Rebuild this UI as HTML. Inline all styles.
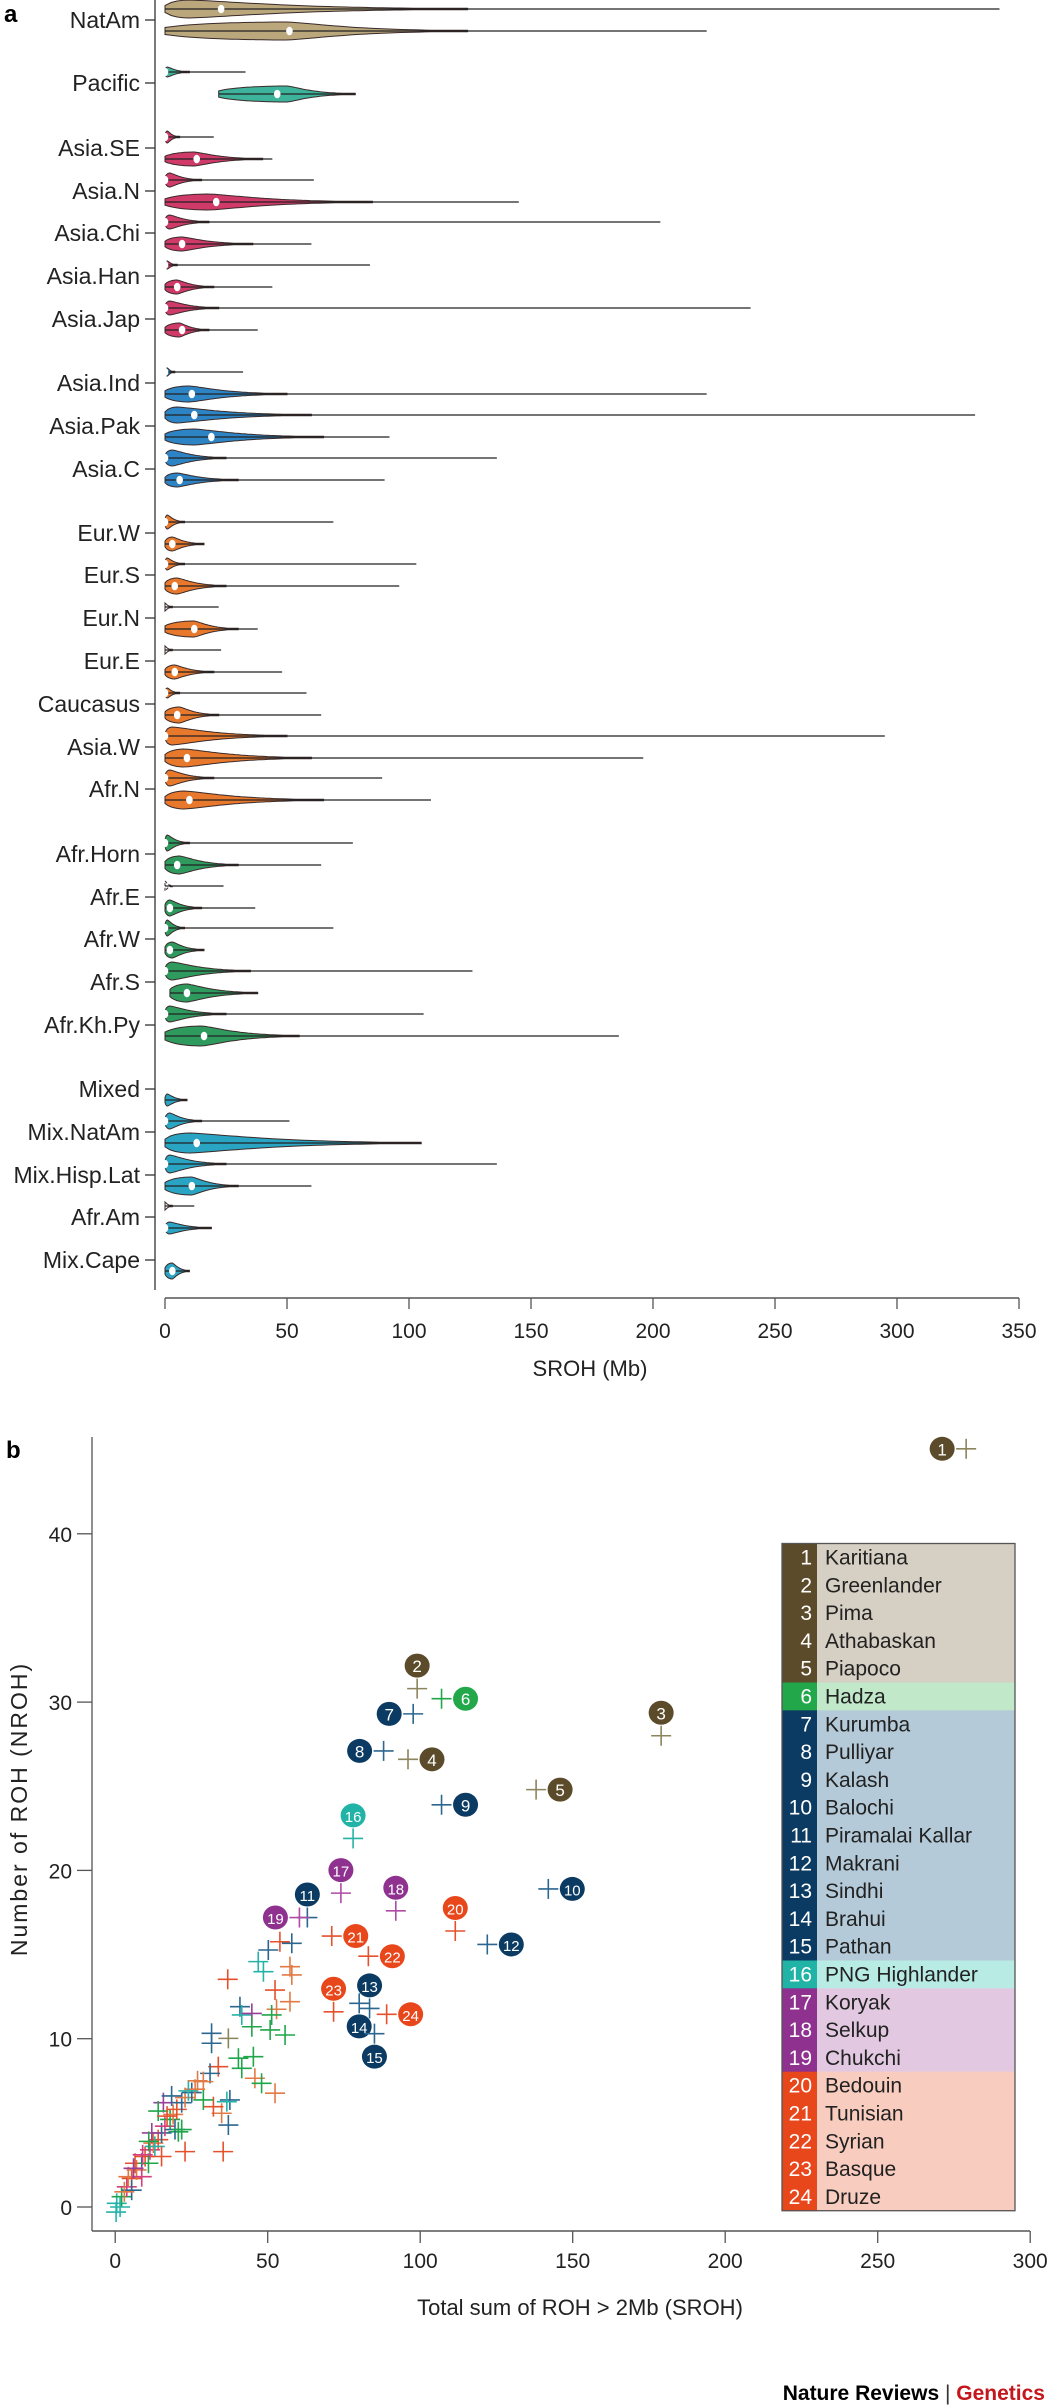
<!DOCTYPE html>
<html><head><meta charset="utf-8"><style>
html,body{margin:0;padding:0;background:#fff;}
svg{display:block;font-family:"Liberation Sans",sans-serif;}
</style></head><body>
<svg id="fig" width="1050" height="2407" viewBox="0 0 1050 2407" xmlns="http://www.w3.org/2000/svg">
<text x="4" y="22" font-size="24" font-weight="bold">a</text>
<text x="6" y="1458" font-size="24" font-weight="bold">b</text>
<g id="pa"></g>
<g id="pb"></g>
<text x="1045" y="2400" text-anchor="end" font-size="21" font-weight="bold">Nature Reviews <tspan fill="#333" font-weight="normal">|</tspan> <tspan fill="#c4161c">Genetics</tspan></text>
</svg>
<script>
// ---------- Panel a data ----------
const groupLabels = ["NatAm","Pacific","Asia.SE","Asia.N","Asia.Chi","Asia.Han","Asia.Jap","Asia.Ind","Asia.Pak","Asia.C","Eur.W","Eur.S","Eur.N","Eur.E","Caucasus","Asia.W","Afr.N","Afr.Horn","Afr.E","Afr.W","Afr.S","Afr.Kh.Py","Mixed","Mix.NatAm","Mix.Hisp.Lat","Afr.Am","Mix.Cape"];
const groupRegion = [0,1,2,2,2,2,2,3,3,3,4,4,4,4,4,4,4,5,5,5,5,5,6,6,6,6,6];
// per violin: group index, side (-1 top, +1 bottom)
const vGroup = [0,0,1,1,2,2,3,3,4,4,5,5,6,6,7,7,8,8,9,9,10,10,11,11,12,12,13,13,14,14,15,15,16,16,17,17,18,18,19,19,20,20,21,21,22,23,23,24,24,25,25,26];
const vSide  = [-1,1,-1,1,-1,1,-1,1,-1,1,-1,1,-1,1,-1,1,-1,1,-1,1,-1,1,-1,1,-1,1,-1,1,-1,1,-1,1,-1,1,-1,1,-1,1,-1,1,-1,1,-1,1,1,-1,1,-1,1,-1,1,1];
const vMin   = [0,0,0,22,0,0,0,0,0,0,0,0,0,0,0,0,0,0,0,0,0,0,0,0,0,0,0,0,0,0,0,0,0,0,0,0,0,0,0,0,0,2,0,0,0,0,0,0,0,0,0,0];
const vMax   = [342,222,33,78,20,44,61,145,203,60,84,44,240,38,32,222,332,92,136,90,69,16,103,96,22,38,23,48,58,64,295,196,89,109,77,64,24,37,69,16,126,38,106,186,9,51,105,136,60,12,19,10];
const vMed   = [23,51,0,46,0,13,0,21,0,7,0,5,0,7,0,11,12,19,0,6,0,3,0,4,null,12,null,4,0,5,0,9,0,10,0,5,null,2,0,2,0,9,0,16,null,0,13,0,11,null,0,3];
const vPeak  = [10,50,1,50,1,12,2,18,2,7,1,5,2,6,1,10,5,12,3,5,1,3,1,5,0,12,0,4,1,6,3,8,2,8,1,6,0,2,1,3,3,9,2,15,1,2,10,2,11,0,2,3];
const vBody  = [124,124,10,78,6,40,15,85,18,36,5,20,22,18,4,50,60,65,25,30,8,16,8,25,3,30,3,20,6,22,50,60,20,65,10,30,3,15,8,16,35,38,25,55,9,15,105,25,30,3,19,10];
const vHW    = [9,9,5,8,6,7,7,8,7,7,4,7,7,7,4,8,8,8,8,7,7,7,6,8,4,8,4,7,5,8,9,9,8,9,8,9,5,8,8,8,9,9,8,10,6,8,10,9,9,4,6,8];
const vHollow= [0,0,0,0,0,0,0,0,0,0,0,0,0,0,0,0,0,0,0,0,0,0,0,0,1,0,1,0,0,0,0,0,0,0,0,0,1,0,0,0,0,0,0,0,0,0,0,0,0,1,0,0];
const aTicks = [0,50,100,150,200,250,300,350];
const groupY = [20,83,148,191,233,276,319,383,426,469,533,575,618,661,704,747,789,854,897,939,982,1025,1089,1132,1175,1217,1260];
const regionFill = ["#bba77c","#3db39c","#cf3a68","#2c84c4","#e8792c","#2e9a5e","#2aa4c3"];

// ---------- Panel b data ----------
const labNames = ["Karitiana","Greenlander","Pima","Athabaskan","Piapoco","Hadza","Kurumba","Pulliyar","Kalash","Balochi","Piramalai Kallar","Makrani","Sindhi","Brahui","Pathan","PNG Highlander","Koryak","Selkup","Chukchi","Bedouin","Tunisian","Syrian","Basque","Druze"];
const labGroup = [0,0,0,0,0,1,2,2,2,2,2,2,2,2,2,3,4,4,4,5,5,5,5,5];
const labX = [279,99,179,96,138,107,97.7,88,107,142,63,122,83.4,80,85,78,74,92,60.4,111.5,71,83,71.6,89];
const labY = [45.05,30.8,28,26.6,24.8,30.2,29.3,27.1,23.9,18.9,17.2,15.6,11.8,12.1,10.3,21.9,18.65,17.6,17.2,16.4,16.1,14.9,11.6,11.45];
// label-circle offset direction: 0 left,1 right,2 above,3 below
const labPos = [0,2,2,1,1,1,0,0,1,1,2,1,2,3,3,2,2,2,0,2,1,1,2,1];
const crossX = [57.9,54,50.2,46.9,48.6,57.3,57.9,36.9,52.4,57.3,52.9,40.9,41.5,44.8,51.3,44.8,50.8,55.7,31.6,31.6,37.1,40.4,45.3,41.5,45.8,48,52.4,33.8,31.1,28.9,37.6,36.6,34.9,37.1,32.2,28.9,22.9,35.4,20.7,0.5,2.1,3.8,5.4,7,8.7,9.8,11.4,12.5,14.1,15.2,16.3,18,19,20.2,21.8,22.9,25.1,26.2,15.8,14.1,18.5,6.5,4.3,10.9,13,8.7,15.2,19.6,21.8,5.4,1.6,12,0.3,3,6,9,11,17,24,27];
const crossY = [15.67,15.76,15.27,14.58,13.98,14.28,13.79,13.53,12.89,12.2,11.75,11.9,11.41,11.5,11.41,10.71,10.52,10.22,10.32,9.73,10.02,8.84,8.93,8.24,7.65,7.35,6.76,8.34,7.94,7.45,6.36,6.26,5.57,4.87,5.96,6.36,3.29,3.29,4.47,0.22,0.61,1.2,1.7,2.2,2.6,3,3.4,3.8,4,4.4,4.8,5.2,5.5,5.8,6.2,6.5,6.8,7,6.2,5.7,6.6,2.6,1.8,2.6,3.6,1.8,3,4.6,4.6,1,0,4.4,-0.3,0.9,2.3,3.1,3.9,5.4,6.9,7.5];
const crossC = [2,6,2,3,3,7,7,6,6,7,7,2,3,4,1,1,1,1,2,2,0,1,1,1,7,1,7,6,2,7,2,3,7,2,6,1,6,6,1,3,1,5,6,7,2,6,5,7,6,2,5,1,7,6,2,7,2,7,4,1,2,6,7,1,3,5,6,2,1,2,3,4,3,7,4,5,1,6,3,7];
const bXTicks = [0,50,100,150,200,250,300];
const bYTicks = [0,10,20,30,40];
const legDark = ["#5b4b2a","#22a84a","#0b3b62","#20b3a6","#8e318f","#e8471c"];
const legLight = ["#d6cfc3","#c0e8c9","#b4cad8","#b9ebe5","#e2c9e1","#f8ccbe"];
const crossPal = ["#8c845c","#1fa64a","#2c6790","#25b3a8","#9a3f98","#d4407f","#e5512c","#e27a45"];
const labCross = ["#8c845c","#1fa64a","#2c6790","#25b3a8","#b04aa4","#e5512c"];

const NS="http://www.w3.org/2000/svg";
function mk(tag, attrs, parent){const e=document.createElementNS(NS,tag);for(const k in attrs)e.setAttribute(k,attrs[k]);parent.appendChild(e);return e;}

// ---------- Panel a ----------
const pa=document.getElementById('pa');
const ax0=165, axS=2.44;
function xa(v){return ax0+v*axS;}
const yAx=mk('line',{x1:155,y1:0,x2:155,y2:1290,stroke:'#333','stroke-width':1.3},pa);


groupLabels.forEach((g,i)=>{
  const y=groupY[i];
  const tk=mk('line',{x1:145,y1:y,x2:155,y2:y,stroke:'#333','stroke-width':1.3},pa);
  
  
  const t=mk('text',{x:140,y:y+8,'text-anchor':'end','font-size':23,fill:'#222'},pa);
  t.textContent=g;
  
  
});
function widthAt(i,v){
  const mn=vMin[i],pk=vPeak[i],bd=vBody[i],hw=vHW[i];
  if(v<=pk){ if(pk<=mn+0.01) return hw; const f=(pk-v)/(pk-mn); return hw*Math.sqrt(Math.max(0,1-f*f*0.85)); }
  if(v>=bd) return 0.7;
  const f=(v-pk)/(bd-pk);
  return Math.max(0.7,hw*Math.exp(-3.2*Math.pow(f,1.3)));
}
vGroup.forEach((g,i)=>{
  const cy=groupY[g]+vSide[i]*11;
  const col=regionFill[groupRegion[g]];
  const gg=mk('g',{},pa);
  
  
  const mn=vMin[i], bd=Math.min(vBody[i],vMax[i]);
  const n=50, top=[], bot=[];
  for(let k=0;k<=n;k++){const v=mn+(bd-mn)*k/n;const w=widthAt(i,v);top.push([xa(v),cy-w]);bot.push([xa(v),cy+w]);}
  let d='M'+xa(mn)+','+cy+' ';
  top.forEach(p=>d+='L'+p[0].toFixed(1)+','+p[1].toFixed(1)+' ');
  bot.reverse().forEach(p=>d+='L'+p[0].toFixed(1)+','+p[1].toFixed(1)+' ');
  d+='Z';
  mk('path',{d:d,fill:vHollow[i]?'#fff':col,stroke:'#3a2a2a','stroke-width':1,'stroke-dasharray':vHollow[i]&&g===18?'3,2':'none'},gg);
  mk('line',{x1:xa(mn),y1:cy,x2:xa(vMax[i]),y2:cy,stroke:'#222','stroke-width':1.3},gg);
  if(vMed[i]!==null){
    mk('ellipse',{cx:xa(vMed[i]),cy:cy,rx:3.3,ry:4.3,fill:'#fff'},gg);
  }
});
const xAxA=mk('line',{x1:ax0,y1:1298,x2:xa(350),y2:1298,stroke:'#555','stroke-width':1.5},pa);


aTicks.forEach(v=>{
  const l=mk('line',{x1:xa(v),y1:1298,x2:xa(v),y2:1309,stroke:'#555','stroke-width':1.3},pa);
  
  
  const t=mk('text',{x:xa(v),y:1338,'text-anchor':'middle','font-size':21,fill:'#222'},pa);
  t.textContent=v;
  
  
});
const at=mk('text',{x:590,y:1376,'text-anchor':'middle','font-size':22,fill:'#222'},pa);
at.textContent='SROH (Mb)';



// ---------- Panel b ----------
const pb=document.getElementById('pb');
function xb(v){return 115.2+v*3.05;}
function yb(v){return 2207-v*16.83;}
const bya=mk('line',{x1:92,y1:1437,x2:92,y2:2231,stroke:'#555','stroke-width':1.3},pb);


const bxa=mk('line',{x1:92,y1:2231,x2:1030,y2:2231,stroke:'#555','stroke-width':1.5},pb);


bYTicks.forEach(v=>{
  const l=mk('line',{x1:77,y1:yb(v),x2:92,y2:yb(v),stroke:'#555','stroke-width':1.3},pb);
  
  
  const t=mk('text',{x:72,y:yb(v)+8,'text-anchor':'end','font-size':21,fill:'#222'},pb);
  t.textContent=v;
  
  
});
bXTicks.forEach(v=>{
  const l=mk('line',{x1:xb(v),y1:2231,x2:xb(v),y2:2243,stroke:'#555','stroke-width':1.3},pb);
  
  
  const t=mk('text',{x:xb(v),y:2268,'text-anchor':'middle','font-size':21,fill:'#222'},pb);
  t.textContent=v;
  
  
});
const bxt=mk('text',{x:580,y:2315,'text-anchor':'middle','font-size':22,fill:'#222'},pb);
bxt.textContent='Total sum of ROH > 2Mb (SROH)';


const byt=mk('text',{x:0,y:0,'text-anchor':'middle','font-size':23,'letter-spacing':2,fill:'#222',transform:'translate(27,1809) rotate(-90)'},pb);
byt.textContent='Number of ROH (NROH)';



function cross(x,y,col,parent){
  mk('line',{x1:x-10,y1:y,x2:x+10,y2:y,stroke:col,'stroke-width':1.6},parent);
  mk('line',{x1:x,y1:y-10,x2:x,y2:y+10,stroke:col,'stroke-width':1.6},parent);
}
crossX.forEach((v,i)=>{
  const g=mk('g',{},pb);
  
  
  cross(xb(v),yb(crossY[i]),crossPal[crossC[i]],g);
});
labX.forEach((v,i)=>{
  const g=mk('g',{},pb);
  
  
  const px=xb(v),py=yb(labY[i]);
  cross(px,py,labCross[labGroup[i]],g);
  const off=[[-24,0],[24,0],[0,-23],[0,23]][labPos[i]];
  const cx=px+off[0],cy=py+off[1];
  mk('ellipse',{cx:cx,cy:cy,rx:12.5,ry:12,fill:legDark[labGroup[i]]},g);
  const t=mk('text',{x:cx,y:cy+6.5,'text-anchor':'middle','font-size':i>=9?15:17,fill:'#fff'},g);
  t.textContent=i+1;
});
// legend
const lg=mk('g',{},pb);


const L0=1543.5, LH=27.8;
labNames.forEach((nm,i)=>{
  const y=L0+i*LH, gi=labGroup[i];
  const r=mk('g',{},lg);
  
  
  mk('rect',{x:782,y:y,width:35,height:LH+0.5,fill:legDark[gi]},r);
  mk('rect',{x:817,y:y,width:198,height:LH+0.5,fill:legLight[gi]},r);
  const n=mk('text',{x:812,y:y+21,'text-anchor':'end','font-size':21,fill:'#fff'},r);
  n.textContent=i+1;
  const t=mk('text',{x:825,y:y+21,'font-size':21,fill:'#222'},r);
  t.textContent=nm;
});
mk('rect',{x:782,y:L0,width:233,height:LH*24,fill:'none',stroke:'#555','stroke-width':1.3},lg);
</script>
</body></html>
